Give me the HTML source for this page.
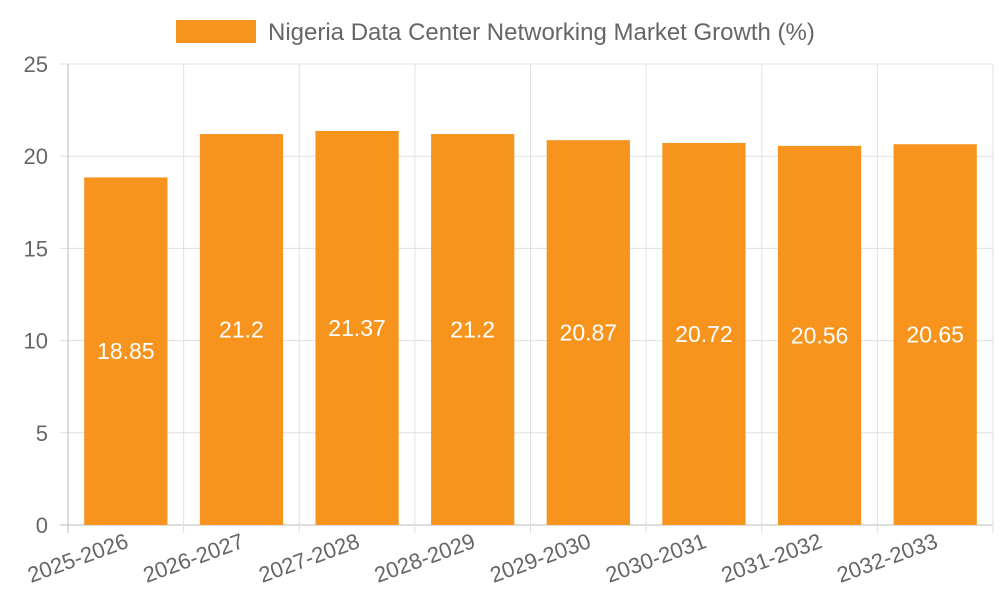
<!DOCTYPE html>
<html><head><meta charset="utf-8"><style>
body{margin:0;background:#fff;}
svg{display:block;font-family:"Liberation Sans",sans-serif;}
</style></head><body>
<svg id="c" width="1000" height="600">
<g>
<rect x="176" y="20" width="80" height="23" fill="#f7941e"></rect>
<text x="268" y="40" font-size="24" fill="#666">Nigeria Data Center Networking Market Growth (%)</text>
</g>
</svg>
<script>
const categories=["2025-2026","2026-2027","2027-2028","2028-2029","2029-2030","2030-2031","2031-2032","2032-2033"];
const values=[18.85,21.2,21.37,21.2,20.87,20.72,20.56,20.65];
const yTicks=[0,5,10,15,20,25];
const svg=document.getElementById('c');
const NS='http://www.w3.org/2000/svg';
const L=68,R=993,T=64,B=525,yMax=25;
const band=(R-L)/categories.length;
const y=v=>B-(v/yMax)*(B-T);
const x=i=>L+i*band;
function mk(tag,attrs,parent){const e=document.createElementNS(NS,tag);for(const k in attrs)e.setAttribute(k,attrs[k]);(parent||svg).appendChild(e);return e;}
const grid=mk('g',{});


yTicks.forEach(t=>{
  const l=mk('line',{x1:60,x2:R,y1:y(t),y2:y(t),stroke:t===0?'#bbb':'#e0e0e0','stroke-width':1},grid);
  
  
  const tx=mk('text',{x:48,y:y(t)+8,'font-size':22,fill:'#666','text-anchor':'end'});
  tx.textContent=t;
  
  
});
for(let i=0;i<=categories.length;i++){
  const l=mk('line',{x1:x(i),x2:x(i),y1:T,y2:B+8,stroke:i===0?'#bbb':'#e0e0e0','stroke-width':1},grid);
  
  
}
categories.forEach((c,i)=>{
  const bw=band*0.72;
  const bx=x(i)+(band-bw)/2;
  const r=mk('rect',{x:bx,y:y(values[i]),width:bw,height:B-y(values[i]),fill:'#f7941e'});
  
  
  const lb=mk('text',{x:bx+bw/2,y:(y(values[i])+B)/2+8,'font-size':23,fill:'#fff','text-anchor':'middle'});
  lb.textContent=values[i];
  
  
  const cx=x(i)+band/2+4;
  const xl=mk('text',{x:cx,y:B+22,'font-size':22,fill:'#666','text-anchor':'end',transform:`rotate(-20 ${cx} ${B+22})`});
  xl.textContent=c;
  
  
});
</script>
</body></html>
